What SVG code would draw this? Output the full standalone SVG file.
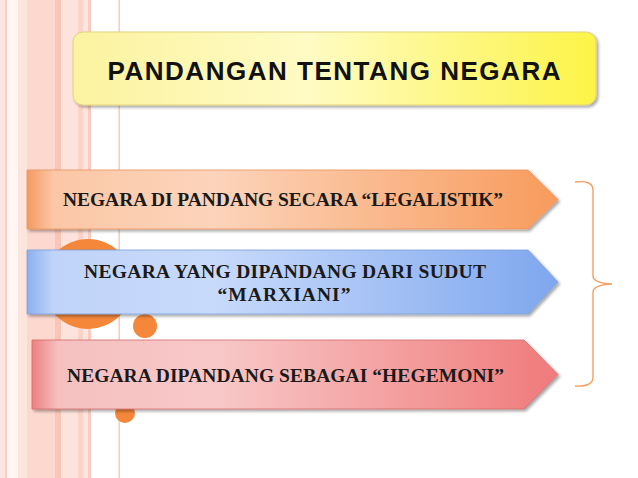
<svg xmlns="http://www.w3.org/2000/svg" width="638" height="478" viewBox="0 0 638 478">
<defs>
<style>
.t{font-family:"Liberation Serif","Times New Roman",serif;font-weight:bold;font-size:19.5px;fill:#1a1a1a;text-anchor:middle}
.title{font-family:"Liberation Sans",Arial,sans-serif;font-weight:bold;font-size:26px;fill:#111;text-anchor:middle}
.dot{fill:#f5873b}
</style>
<linearGradient id="gY" x1="0" y1="0" x2="1" y2="0">
<stop offset="0" stop-color="#fbf3a0"/><stop offset="0.45" stop-color="#fffbc4"/><stop offset="1" stop-color="#fcf447"/>
</linearGradient>
<linearGradient id="gO" x1="0" y1="0" x2="1" y2="0">
<stop offset="0" stop-color="#f59a60"/><stop offset="0.05" stop-color="#fbc7a6"/><stop offset="0.35" stop-color="#fcd4bb"/><stop offset="1" stop-color="#f89b5c"/>
</linearGradient>
<linearGradient id="gB" x1="0" y1="0" x2="1" y2="0">
<stop offset="0" stop-color="#8cb0ee"/><stop offset="0.05" stop-color="#c0d4f9"/><stop offset="0.35" stop-color="#c8dafb"/><stop offset="1" stop-color="#7fa7ee"/>
</linearGradient>
<linearGradient id="gR" x1="0" y1="0" x2="1" y2="0">
<stop offset="0" stop-color="#ee8080"/><stop offset="0.05" stop-color="#f6c0c0"/><stop offset="0.35" stop-color="#f8c8c8"/><stop offset="1" stop-color="#f07a7a"/>
</linearGradient>
<filter id="sh" x="-5%" y="-10%" width="112%" height="130%">
<feGaussianBlur in="SourceAlpha" stdDeviation="1.5"/>
<feOffset dx="1.5" dy="2" result="b"/>
<feComponentTransfer><feFuncA type="linear" slope="0.35"/></feComponentTransfer>
<feMerge><feMergeNode/><feMergeNode in="SourceGraphic"/></feMerge>
</filter>
</defs>
<rect width="638" height="478" fill="#ffffff"/>
<g id="background">
<rect x="0" y="0" width="5" height="478" fill="#fce6e0"/>
<rect x="5" y="0" width="2" height="478" fill="#f8cfc4"/>
<rect x="7" y="0" width="11" height="478" fill="#fff7f5"/>
<rect x="18" y="0" width="9" height="478" fill="#fde4dd"/>
<rect x="27" y="0" width="28" height="478" fill="#fdd8ce"/>
<rect x="55" y="0" width="6" height="478" fill="#f9c5b8"/>
<rect x="61" y="0" width="17" height="478" fill="#fde3dc"/>
<rect x="78" y="0" width="5" height="478" fill="#fbd3c8"/>
<rect x="83" y="0" width="5" height="478" fill="#fde6df"/>
<rect x="88" y="0" width="3" height="478" fill="#f9ccc0"/>
<rect x="118.5" y="0" width="1.3" height="478" fill="#f3c2b5"/>
<circle class="dot" cx="88" cy="284" r="45"/>
<circle class="dot" cx="145" cy="326" r="12"/>
<circle class="dot" cx="125" cy="413" r="10"/>
</g>
<g id="title">
<rect x="73" y="32" width="523" height="73" rx="10" fill="url(#gY)" stroke="#e2d27a" stroke-width="1" filter="url(#sh)"/>
<text class="title" x="334" y="80" textLength="453" lengthAdjust="spacing">PANDANGAN TENTANG NEGARA</text>
</g>
<g id="legalistik">
<path d="M27,170 L528,170 L558,199.5 L528,229 L27,229 Z" fill="url(#gO)" stroke="#e8925a" stroke-width="0.8" filter="url(#sh)"/>
<text class="t" x="283" y="206" textLength="440" lengthAdjust="spacing">NEGARA DI PANDANG SECARA “LEGALISTIK”</text>
</g>
<g id="marxiani">
<path d="M27,250 L528,250 L558,282 L528,314 L27,314 Z" fill="url(#gB)" stroke="#7b9ed8" stroke-width="0.8" filter="url(#sh)"/>
<text class="t" x="285" y="278" textLength="402" lengthAdjust="spacing">NEGARA YANG DIPANDANG DARI SUDUT</text>
<text class="t" x="284" y="301" textLength="133" lengthAdjust="spacing">“MARXIANI”</text>
</g>
<g id="hegemoni">
<path d="M32,340 L524,340 L558,374.5 L524,409 L32,409 Z" fill="url(#gR)" stroke="#d46a6a" stroke-width="0.8" filter="url(#sh)"/>
<text class="t" x="285.5" y="382" textLength="437" lengthAdjust="spacing">NEGARA DIPANDANG SEBAGAI “HEGEMONI”</text>
</g>
<g id="connectors">
<path d="M575,182 Q593,180 593,190 L593,276 Q593,283 612,284 Q593,285 593,292 L593,377 Q593,387 575,386" fill="none" stroke="#f2a064" stroke-width="1.4"/>
</g>
</svg>
